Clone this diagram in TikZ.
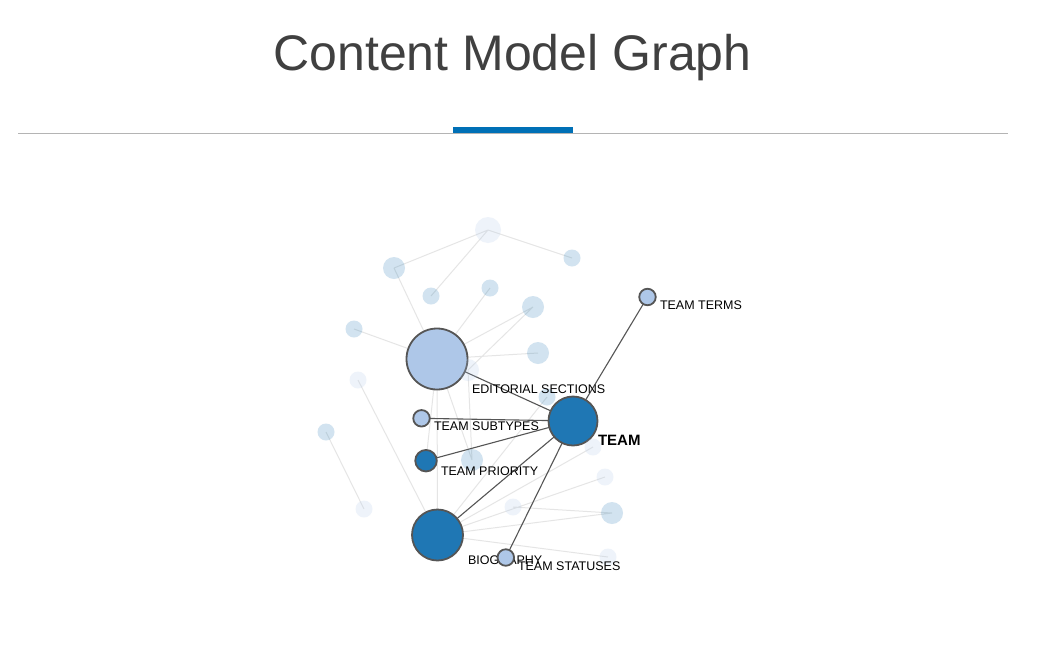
\documentclass[tikz,border=0pt]{standalone}
\usepackage{fontspec}
\setmainfont{Liberation Sans}
\usetikzlibrary{backgrounds}
\definecolor{darkblue}{HTML}{1F77B4}
\definecolor{lightblue}{HTML}{AEC7E8}
\definecolor{rim}{HTML}{555555}
\definecolor{titlegray}{HTML}{404040}
\definecolor{rulegray}{HTML}{B4B4B4}
\definecolor{barblue}{HTML}{0070B6}
\begin{document}
\begin{tikzpicture}[x=1pt, y=-1pt,
  every node/.style={inner sep=0pt, outer sep=0pt},
  ctype/.style={circle, draw=rim, line width=1.8pt, minimum size=#1},
  ghost/.style={circle, fill opacity=0.2, minimum size=#1},
  link/.style={draw=rim, line width=1.1pt},
  ghostlink/.style={draw=rim, draw opacity=0.15, line width=1pt},
  lbl/.style={anchor=base west, font=\fontsize{12.5}{14}\selectfont}]
\useasboundingbox (0,0) rectangle (1038,659);
% heading
\node[anchor=base, text=titlegray, font=\fontsize{50}{60}\selectfont] (title) at (512.5,70) {Content Model Graph};
\fill[rulegray] (18,132.5) rectangle (1008,133.5);
\fill[barblue] (453,127) rectangle (573,133);
% content types
\node[ctype=61pt, fill=lightblue] (edsec) at (437,359) {};
\node[ctype=49pt, fill=darkblue] (team) at (573,421) {};
\node[ctype=51pt, fill=darkblue] (bio) at (437.5,535) {};
\node[ctype=16.5pt, fill=lightblue] (subtypes) at (421.5,418.3) {};
\node[ctype=21.5pt, fill=darkblue] (priority) at (426,460.7) {};
\node[ctype=16.5pt, fill=lightblue] (terms) at (647.5,297) {};
% faded neighbours
\node[ghost=26pt, fill=lightblue] (ga) at (488,230) {};
\node[ghost=22pt, fill=darkblue] (gb) at (394,268) {};
\node[ghost=17pt, fill=darkblue] (gc) at (572,258) {};
\node[ghost=17pt, fill=darkblue] (gd) at (431,296) {};
\node[ghost=17pt, fill=darkblue] (ge) at (490,288) {};
\node[ghost=22pt, fill=darkblue] (gf) at (533,307) {};
\node[ghost=17pt, fill=darkblue] (gg) at (354,329) {};
\node[ghost=22pt, fill=darkblue] (gh) at (538,353) {};
\node[ghost=22pt, fill=lightblue] (gi) at (468,370) {};
\node[ghost=17pt, fill=lightblue] (gj) at (358,380) {};
\node[ghost=17pt, fill=darkblue] (gk) at (326,432) {};
\node[ghost=17pt, fill=lightblue] (gl) at (364,509) {};
\node[ghost=22pt, fill=darkblue] (gm) at (472,460) {};
\node[ghost=17pt, fill=darkblue] (gn) at (547,397) {};
\node[ghost=17pt, fill=lightblue] (go) at (593,447) {};
\node[ghost=17pt, fill=lightblue] (gp) at (605,477) {};
\node[ghost=17pt, fill=lightblue] (gq) at (513,507) {};
\node[ghost=22pt, fill=darkblue] (gr) at (612,513) {};
\node[ghost=17pt, fill=lightblue] (gs) at (608,557) {};
% names
\node[lbl] (termslbl) at (660,309.3) {TEAM TERMS};
\node[lbl] (edseclbl) at (472,393.6) {EDITORIAL SECTIONS};
\node[lbl] (subtypeslbl) at (434,430.5) {TEAM SUBTYPES};
\node[lbl, font=\fontsize{15}{17}\selectfont\bfseries] (teamlbl) at (598,445.3) {TEAM};
\node[lbl] (prioritylbl) at (441,475.5) {TEAM PRIORITY};
\node[lbl] (biolbl) at (468,564.5) {BIOGRAPHY};
% drawn over the BIOGRAPHY name, as in the graph
\node[ctype=16.5pt, fill=lightblue] (statuses) at (505.8,557.5) {};
\node[lbl] (statuseslbl) at (518,570.5) {TEAM STATUSES};
% links, behind the circles
\begin{scope}[on background layer]
\fill[white] (0,0) rectangle (1038,659);
\path[ghostlink] (ga.center) -- (gb.center) (ga.center) -- (gc.center) (ga.center) -- (gd.center)
  (gb.center) -- (edsec.center) (gg.center) -- (edsec.center) (ge.center) -- (edsec.center)
  (gf.center) -- (edsec.center) (gf.center) -- (gi.center) (gh.center) -- (edsec.center)
  (edsec.center) -- (priority.center) (edsec.center) -- (bio.center) (edsec.center) -- (gm.center)
  (gi.center) -- (gm.center) (gj.center) -- (bio.center) (gk.center) -- (gl.center);
\path[ghostlink] (bio.center) -- (gn.center) (bio.center) -- (go.center) (bio.center) -- (gp.center)
  (bio.center) -- (gr.center) (bio.center) -- (gs.center) (gq.center) -- (gr.center);
\path[link] (team.center) -- (edsec.center) (team.center) -- (subtypes.center)
  (team.center) -- (priority.center) (team.center) -- (bio.center)
  (team.center) -- (statuses.center) (team.center) -- (terms.center);
\end{scope}
\end{tikzpicture}
\end{document}
